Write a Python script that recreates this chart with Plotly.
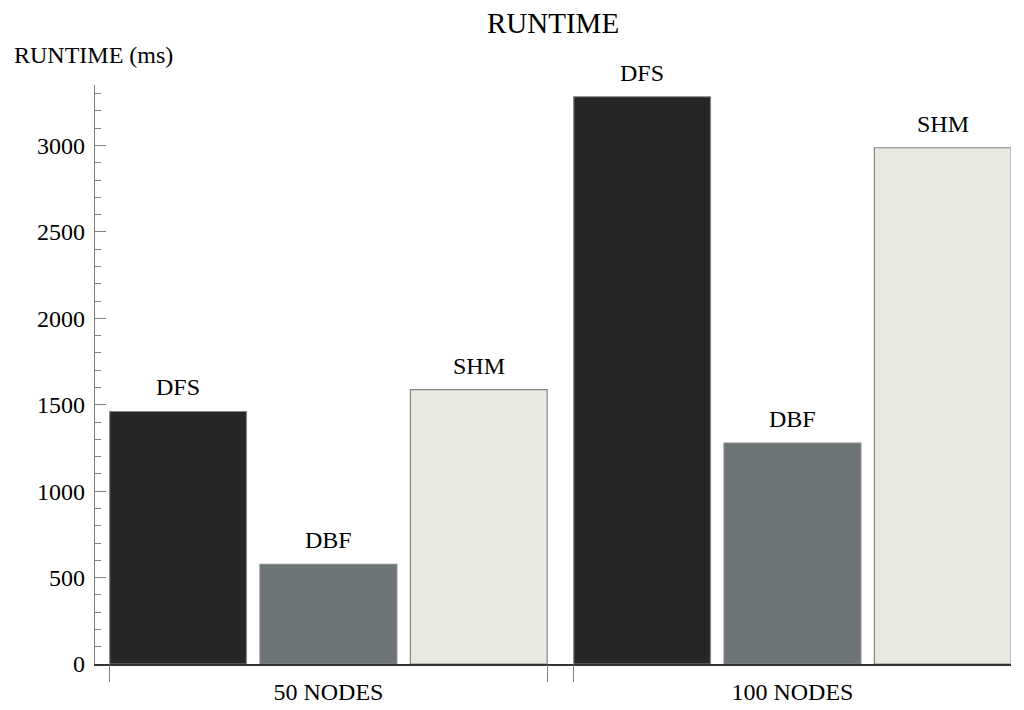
import plotly.graph_objects as go

groups = ["50 NODES", "100 NODES"]
methods = ["DFS", "DBF", "SHM"]
runtime = {
    "DFS": [1461, 3282],
    "DBF": [577, 1278],
    "SHM": [1587, 2987],
}
colors = {"DFS": "#262626", "DBF": "#6c7476", "SHM": "#e8e9e0"}

serif = "Liberation Serif, Times New Roman, serif"
bargap = 0.028
bargroupgap = 0.09

fig = go.Figure()
for m in methods:
    fig.add_trace(go.Bar(
        x=groups, y=runtime[m], name=m,
        marker=dict(color=colors[m], line=dict(color="#858585", width=1.2)),
    ))

# labels above bars (offset of each bar inside its group)
slot = (1 - bargap) / len(methods)
for i, m in enumerate(methods):
    off = (i - (len(methods) - 1) / 2) * slot
    for g, v in enumerate(runtime[m]):
        fig.add_annotation(x=g + off, y=v, text=m, showarrow=False,
                           yanchor="bottom", yshift=9,
                           font=dict(family=serif, size=24, color="black"))

# group edge ticks on an overlay axis
half = 1.5 * slot - slot * bargroupgap / 2
edges = []
for g in range(len(groups)):
    edges += [g - half, g + half]
fig.add_trace(go.Scatter(x=[edges[0]], y=[0], xaxis="x2", mode="markers",
                         marker=dict(opacity=0), showlegend=False, hoverinfo="skip"))

# page body has an 8px margin, so everything is pulled back by 8px
xr = [-0.503, 1.471]
fig.update_layout(
    width=1024, height=710,
    margin=dict(l=87, r=21, t=77, b=54),
    paper_bgcolor="white", plot_bgcolor="white",
    barmode="group", bargap=bargap, bargroupgap=bargroupgap,
    showlegend=False,
    font=dict(family=serif, size=24, color="black"),
    xaxis=dict(range=xr, showline=True, linecolor="#333333", linewidth=1.5,
               ticks="", showgrid=False, zeroline=False, ticklabelstandoff=5,
               tickfont=dict(family=serif, size=24, color="black")),
    xaxis2=dict(range=xr, overlaying="x", side="bottom", tickvals=edges,
                ticktext=["" for _ in edges], ticks="outside", ticklen=17,
                tickcolor="#808080", tickwidth=1.2, showline=False,
                showgrid=False, zeroline=False),
    yaxis=dict(range=[0, 3350], tickvals=[0, 500, 1000, 1500, 2000, 2500, 3000],
               ticks="inside", ticklen=11, tickcolor="#808080", tickwidth=1.2,
               showline=True, linecolor="#808080", linewidth=1.2,
               showgrid=False, zeroline=False, ticklabelstandoff=4,
               minor=dict(dtick=100, ticks="inside", ticklen=6,
                          tickcolor="#808080", tickwidth=1),
               tickfont=dict(family=serif, size=24, color="black")),
)

# title as a paper annotation so it sits clear of the top edge
fig.add_annotation(text="RUNTIME", xref="paper", yref="paper",
                   x=0.5, y=1 + 62 / 579, xanchor="center", yanchor="middle",
                   showarrow=False, font=dict(family=serif, size=29, color="black"))

# y axis line runs a little past zero
fig.add_shape(type="line", xref="paper", yref="y", x0=0, x1=0, y0=-65, y1=0,
              line=dict(color="#808080", width=1.2), layer="above")

fig.add_annotation(text="RUNTIME (ms)", xref="paper", yref="paper",
                   x=-83 / 916, y=1 + 30 / 579, xanchor="left", yanchor="middle",
                   showarrow=False, font=dict(family=serif, size=24, color="black"))

fig.write_html("out.html")
